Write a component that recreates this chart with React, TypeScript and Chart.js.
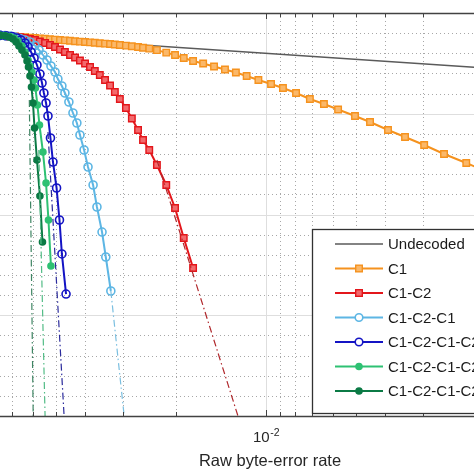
import React, { useEffect, useRef } from "react";
import { Chart, registerables } from "chart.js";

Chart.register(...registerables);

// Visible window of the (cropped) axes
const X_MIN = 0.002026;
const X_MAX = 0.07703;
const Y_MIN = 1e-20;
const Y_MAX = 1;

const xAxisTitle = "Raw byte-error rate";
const xTickValue = 0.01;
const xTickBase = "10";
const xTickExp = "-2";

const seriesLabels = [
  "Undecoded",
  "C1",
  "C1-C2",
  "C1-C2-C1",
  "C1-C2-C1-C2",
  "C1-C2-C1-C2-C1",
  "C1-C2-C1-C2-C1-C2",
];

// Undecoded (output = input)
const undecodedBer = [0.1, 0.001];
const undecodedOut = [0.1, 0.001];

// C1
const c1Ber = [0.077, 0.0741, 0.0714, 0.0687, 0.0661, 0.0636, 0.0612, 0.0589, 0.0567, 0.0545, 0.0525, 0.0505, 0.0486, 0.0468, 0.045, 0.0433, 0.0417, 0.0401, 0.0386, 0.0372, 0.0358, 0.0344, 0.0331, 0.0319, 0.0307, 0.0293, 0.028, 0.0267, 0.0257, 0.0245, 0.0231, 0.0215, 0.0201, 0.0188, 0.0175, 0.0162, 0.0149, 0.0137, 0.0126, 0.0116, 0.0106, 0.00962, 0.00878, 0.00794, 0.00714, 0.00641, 0.00575, 0.00505, 0.0045, 0.00392, 0.00344, 0.00297, 0.00255, 0.00215, 0.00179];
const c1Out = [0.0773, 0.0739, 0.0706, 0.0682, 0.0651, 0.0622, 0.0594, 0.0574, 0.0549, 0.0524, 0.0501, 0.0479, 0.0457, 0.0437, 0.0417, 0.0399, 0.0381, 0.0364, 0.0348, 0.0332, 0.0317, 0.0303, 0.0289, 0.0273, 0.0258, 0.0241, 0.0223, 0.0205, 0.019, 0.0171, 0.0143, 0.0108, 0.00823, 0.00585, 0.00415, 0.00312, 0.00221, 0.00157, 0.00111, 7.47e-4, 4.73e-4, 3.0e-4, 1.9e-4, 1.07e-4, 5.4e-5, 3.05e-5, 1.63e-5, 7.73e-6, 3.9e-6, 1.56e-6, 7.02e-7, 2.81e-7, 1.01e-7, 3.6e-8, 1.15e-8];

// C1-C2
const c12Ber = [0.077, 0.0741, 0.0714, 0.0687, 0.0661, 0.0636, 0.0612, 0.0589, 0.0567, 0.0545, 0.0525, 0.0505, 0.0486, 0.0468, 0.045, 0.0433, 0.0417, 0.0401, 0.0386, 0.0372, 0.0358, 0.0344, 0.0331, 0.0319, 0.0307, 0.0293, 0.028, 0.0267, 0.0257, 0.0245, 0.0231, 0.0215, 0.0201, 0.0188, 0.0175];
const c12Out = [0.0773, 0.0739, 0.0706, 0.0667, 0.0622, 0.0574, 0.0513, 0.0457, 0.0385, 0.0325, 0.0258, 0.0205, 0.0154, 0.0116, 0.00823, 0.00619, 0.00439, 0.00312, 0.00209, 0.00132, 8.38e-4, 4.73e-4, 2.52e-4, 1.2e-4, 5.4e-5, 1.93e-5, 5.81e-6, 1.56e-6, 4.98e-7, 1.59e-7, 2.86e-8, 2.91e-9, 2.1e-10, 6.82e-12, 2.21e-13];
const c12FitBer = [0.0231, 0.0124];
const c12FitOut = [5.07e-8, 1e-20];

// C1-C2-C1
const c121Ber = [0.077, 0.0741, 0.0714, 0.0687, 0.0661, 0.0636, 0.0612, 0.0589, 0.0571, 0.0554, 0.0537, 0.0521, 0.0505, 0.0494, 0.0479, 0.0468, 0.0454, 0.044, 0.0427, 0.0417, 0.0404, 0.0392, 0.0377, 0.0366, 0.0352, 0.0342, 0.0329];
const c121Out = [0.0773, 0.0756, 0.0722, 0.0644, 0.0543, 0.0457, 0.0364, 0.0244, 0.0146, 0.00823, 0.00465, 0.00234, 0.00118, 5.3e-4, 2.38e-4, 1.07e-4, 3.83e-5, 1.09e-5, 3.48e-6, 8.82e-7, 1.59e-7, 2.28e-8, 2.91e-9, 2.36e-10, 1.35e-11, 7.78e-13, 1.6e-14];
const c121FitBer = [0.0329, 0.0297];
const c121FitOut = [1.6e-14, 1e-20];

// C1-C2-C1-C2
const c1212Ber = [0.077, 0.0736, 0.0703, 0.0676, 0.0656, 0.0636, 0.0621, 0.0607, 0.0593, 0.058, 0.0567, 0.0558, 0.055, 0.0541, 0.0533, 0.0523, 0.0513, 0.0499, 0.0488, 0.0479, 0.0464];
const c1212Out = [0.0773, 0.0739, 0.0682, 0.0574, 0.0457, 0.0325, 0.0205, 0.0116, 0.00585, 0.00263, 9.39e-4, 3.36e-4, 1.07e-4, 3.42e-5, 7.73e-6, 6.26e-7, 4.03e-8, 2.07e-9, 5.33e-11, 1.1e-12, 1.13e-14];
const c1212FitBer = [0.0533, 0.0471];
const c1212FitOut = [1.24e-6, 1e-20];

// C1-C2-C1-C2-C1
const c12121Ber = [0.077, 0.0741, 0.0714, 0.0692, 0.0671, 0.0651, 0.0636, 0.0621, 0.0612, 0.0603, 0.0593, 0.0587, 0.0578, 0.0569, 0.0554, 0.0541, 0.0531, 0.0521];
const c12121Out = [0.0773, 0.0756, 0.0682, 0.0574, 0.0408, 0.023, 0.0116, 0.00465, 0.00234, 0.00118, 4.73e-4, 1.9e-4, 2.72e-5, 2.77e-6, 1.26e-7, 3.66e-9, 5.33e-11, 2.78e-13];
const c12121FitBer = [0.0572, 0.0545];
const c12121FitOut = [1.59e-7, 1e-20];

// C1-C2-C1-C2-C1-C2
const c121212Ber = [0.077, 0.0741, 0.0719, 0.0697, 0.0681, 0.0666, 0.0651, 0.0636, 0.0626, 0.0619, 0.0612, 0.0605, 0.0598, 0.0591, 0.058, 0.0567, 0.0556];
const c121212Out = [0.0773, 0.0739, 0.0644, 0.0513, 0.0364, 0.023, 0.0146, 0.00823, 0.00415, 0.00209, 7.47e-4, 2.13e-4, 3.42e-5, 1.96e-6, 5.07e-8, 8.28e-10, 4.32e-12];
const c121212FitBer = [0.0615, 0.0597];
const c121212FitOut = [4.81e-5, 1e-20];

const FONT = "'Liberation Sans', Arial, Helvetica, sans-serif";

const colors = ["#5a5a5a", "#F5921E", "#E3161B", "#5DB6E4", "#1414C4", "#2EC173", "#0B7A45"];
const markerFill = ["#5a5a5a", "#FBB869", "#F26A6D", "rgba(255,255,255,0)", "rgba(255,255,255,0)", "#2EC173", "#0B7A45"];
const markerStyle = ["none", "rect", "rect", "circle", "circle", "circle", "circle"];
const markerRadius = [0, 4.6, 4.6, 4, 4, 3, 3];
const fitColors = ["#B0282C", "#7BBFE0", "#2B2B9C", "#52BC86", "#3E8563"];

const pts = (xs: number[], ys: number[]) => xs.map((x, i) => ({ x, y: ys[i] }));

const mainData = [
  pts(undecodedBer, undecodedOut),
  pts(c1Ber, c1Out),
  pts(c12Ber, c12Out),
  pts(c121Ber, c121Out),
  pts(c1212Ber, c1212Out),
  pts(c12121Ber, c12121Out),
  pts(c121212Ber, c121212Out),
];
const fitData = [
  pts(c12FitBer, c12FitOut),
  pts(c121FitBer, c121FitOut),
  pts(c1212FitBer, c1212FitOut),
  pts(c12121FitBer, c12121FitOut),
  pts(c121212FitBer, c121212FitOut),
];

function gridLine(ctx: any, x1: number, y1: number, x2: number, y2: number, major: boolean) {
  ctx.beginPath();
  if (major) {
    ctx.setLineDash([]);
    ctx.strokeStyle = "rgb(222,222,222)";
  } else {
    ctx.setLineDash([1, 3]);
    ctx.strokeStyle = "rgba(130,130,130,0.7)";
  }
  ctx.moveTo(x1, y1);
  ctx.lineTo(x2, y2);
  ctx.stroke();
}

function xTickValues() {
  const out: { v: number; major: boolean }[] = [];
  for (let e = -4; e <= 0; e++) {
    for (let m = 1; m <= 9; m++) {
      const v = m * Math.pow(10, e);
      if (v >= X_MIN && v <= X_MAX) out.push({ v, major: m === 1 });
    }
  }
  return out;
}

const matlabPlugin = {
  id: "matlabAxes",
  beforeDatasetsDraw(chart: any) {
    const { ctx, chartArea: a, scales } = chart;
    ctx.save();
    ctx.lineWidth = 1;
    for (const t of xTickValues()) {
      const px = Math.round(scales.x.getPixelForValue(t.v)) + 0.5;
      gridLine(ctx, px, a.top, px, a.bottom, t.major);
    }
    for (let e = -19; e <= -1; e++) {
      const py = Math.round(scales.y.getPixelForValue(Math.pow(10, e))) + 0.5;
      gridLine(ctx, a.left, py, a.right, py, e % 5 === 0);
    }
    ctx.restore();
  },
  afterDraw(chart: any) {
    const { ctx, chartArea: a, scales } = chart;
    ctx.save();
    ctx.setLineDash([]);
    // frame lines
    ctx.strokeStyle = "rgb(66,66,66)";
    ctx.lineWidth = 1.5;
    ctx.beginPath();
    ctx.moveTo(a.left, a.top + 0.5);
    ctx.lineTo(a.right, a.top + 0.5);
    ctx.moveTo(a.left, a.bottom + 0.5);
    ctx.lineTo(a.right, a.bottom + 0.5);
    ctx.stroke();
    // ticks
    ctx.lineWidth = 1;
    ctx.beginPath();
    for (const t of xTickValues()) {
      const px = Math.round(scales.x.getPixelForValue(t.v)) + 0.5;
      const len = t.major ? 6 : 4;
      ctx.moveTo(px, a.top);
      ctx.lineTo(px, a.top + len);
      ctx.moveTo(px, a.bottom);
      ctx.lineTo(px, a.bottom - len);
    }
    ctx.stroke();

    // tick label 10^-2
    const tx = scales.x.getPixelForValue(xTickValue);
    ctx.fillStyle = "#262626";
    ctx.font = `15px ${FONT}`;
    const w1 = ctx.measureText(xTickBase).width;
    ctx.font = `10.5px ${FONT}`;
    const w2 = ctx.measureText(xTickExp).width;
    const sx = tx - (w1 + w2) / 2;
    ctx.textAlign = "left";
    ctx.textBaseline = "alphabetic";
    ctx.font = `15px ${FONT}`;
    ctx.fillText(xTickBase, sx, a.bottom + 26);
    ctx.font = `10.5px ${FONT}`;
    ctx.fillText(xTickExp, sx + w1 + 0.5, a.bottom + 20);

    // axis title
    ctx.font = `16.5px ${FONT}`;
    ctx.textAlign = "center";
    ctx.fillText(xAxisTitle, 270, a.bottom + 50);

    // legend box
    const lx = 312, ly = 229, lw = 220, lh = 184;
    ctx.fillStyle = "#ffffff";
    ctx.fillRect(lx, ly, lw, lh);
    ctx.strokeStyle = "rgb(50,50,50)";
    ctx.lineWidth = 1.3;
    ctx.strokeRect(lx + 0.5, ly + 0.5, lw, lh);
    ctx.font = `15px ${FONT}`;
    ctx.textAlign = "left";
    ctx.textBaseline = "middle";
    seriesLabels.forEach((label, i) => {
      const y = ly + 15 + i * 24.5;
      ctx.strokeStyle = colors[i];
      ctx.lineWidth = i === 0 ? 1.6 : 2;
      ctx.beginPath();
      ctx.moveTo(lx + 23, y);
      ctx.lineTo(lx + 71, y);
      ctx.stroke();
      const mx = lx + 47;
      if (markerStyle[i] === "rect") {
        ctx.fillStyle = markerFill[i];
        ctx.fillRect(mx - 3.3, y - 3.3, 6.6, 6.6);
        ctx.lineWidth = 1.4;
        ctx.strokeRect(mx - 3.3, y - 3.3, 6.6, 6.6);
      } else if (markerStyle[i] === "circle") {
        ctx.beginPath();
        ctx.arc(mx, y, markerRadius[i] === 3 ? 3 : 3.8, 0, Math.PI * 2);
        ctx.fillStyle = markerFill[i] === "rgba(255,255,255,0)" ? "#ffffff" : markerFill[i];
        ctx.fill();
        ctx.lineWidth = 1.6;
        ctx.stroke();
      }
      ctx.fillStyle = "#1a1a1a";
      ctx.fillText(label, lx + 76, y + 1);
    });
    ctx.restore();
  },
};

export default function App() {
  const ref = useRef<HTMLCanvasElement | null>(null);

  useEffect(() => {
    if (!ref.current) return;
    const datasets: any[] = [];
    mainData.forEach((data, i) => {
      datasets.push({
        label: seriesLabels[i],
        data,
        borderColor: colors[i],
        borderWidth: i === 0 ? 1.6 : 2,
        pointStyle: markerStyle[i] === "none" ? "circle" : markerStyle[i],
        pointRadius: markerRadius[i],
        pointBackgroundColor: markerFill[i],
        pointBorderColor: colors[i],
        pointBorderWidth: markerStyle[i] === "rect" ? 1.4 : 1.6,
        fill: false,
        tension: 0,
        order: 100 - i,
      });
    });
    fitData.forEach((data, i) => {
      datasets.push({
        label: seriesLabels[i + 2] + " fit",
        data,
        borderColor: fitColors[i],
        borderWidth: 1.2,
        borderDash: [7, 3, 1.5, 3],
        pointRadius: 0,
        fill: false,
        tension: 0,
        order: 10 - i,
      });
    });

    const chart = new Chart(ref.current, {
      type: "line",
      data: { datasets },
      options: {
        animation: false,
        responsive: false,
        maintainAspectRatio: false,
        devicePixelRatio: 1,
        layout: { autoPadding: false, padding: { top: 13, bottom: 58, left: 0, right: 0 } },
        scales: {
          x: { type: "logarithmic", min: X_MIN, max: X_MAX, reverse: true, display: false },
          y: { type: "logarithmic", min: Y_MIN, max: Y_MAX, display: false },
        },
        plugins: {
          legend: { display: false },
          tooltip: { enabled: false },
        },
        events: [],
      },
      plugins: [matlabPlugin],
    } as any);
    return () => chart.destroy();
  }, []);

  return (
    <div
      style={{
        position: "fixed",
        left: 0,
        top: 0,
        width: 474,
        height: 474,
        overflow: "hidden",
        background: "#ffffff",
      }}
    >
      <canvas ref={ref} width={474} height={474} style={{ display: "block", width: 474, height: 474 }} />
    </div>
  );
}
